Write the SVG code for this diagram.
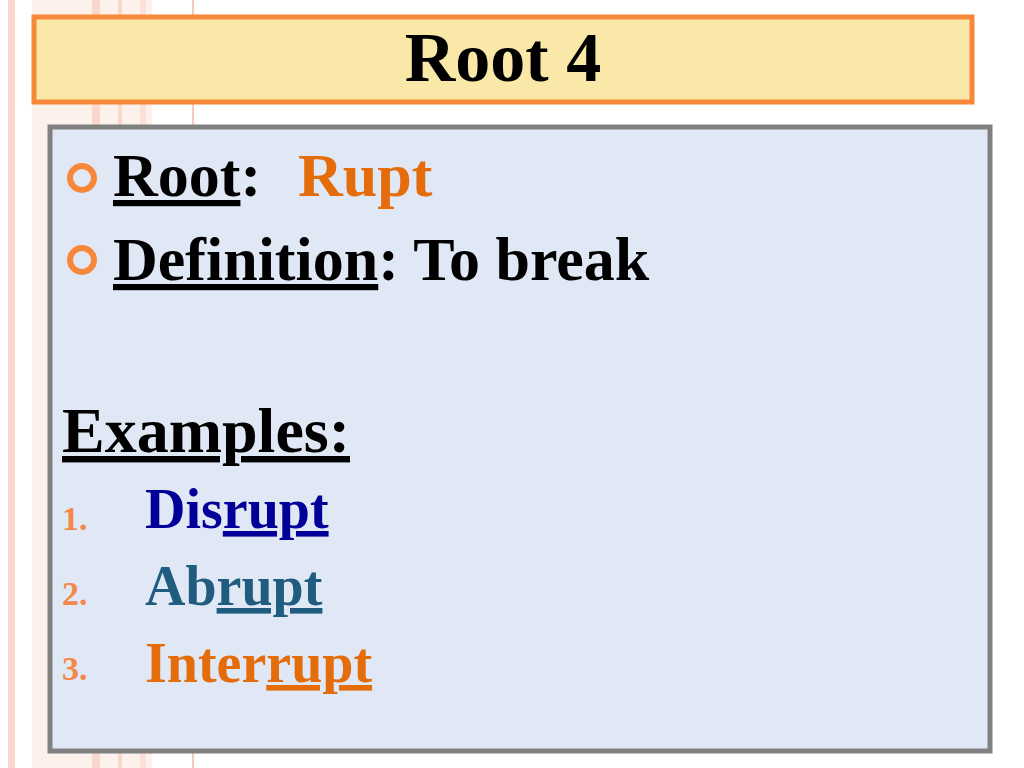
<svg xmlns="http://www.w3.org/2000/svg" width="1024" height="768" viewBox="0 0 1024 768">
<style>
text{font-family:"Liberation Serif","Times New Roman",serif;font-weight:bold}
.u{text-decoration:underline}
.o{fill:#E46C0A}
.n{fill:#F4884A;font-size:34px}
</style>
<rect width="1024" height="768" fill="#fff"/>
<g id="background" opacity="0.55">
<rect x="8" y="0" width="7" height="768" fill="#F6B8A6"/>
<rect x="32" y="0" width="120" height="768" fill="#FCE6DE"/>
<rect x="92" y="0" width="8" height="768" fill="#F6B8A6"/>
<rect x="118" y="0" width="4" height="768" fill="#F6B8A6"/>
<rect x="140" y="0" width="6" height="768" fill="#F8C8B8"/>
<rect x="192" y="0" width="2" height="768" fill="#F0A088"/>
</g>
<g id="title">
<rect x="34" y="17" width="938" height="85" fill="#FAE8A8" stroke="#F7883A" stroke-width="5"/>
<text x="503" y="81" font-size="70" text-anchor="middle" fill="#000">Root 4</text>
</g>
<g id="content">
<rect x="50" y="127" width="940" height="624" fill="#E0E8F5" stroke="#808080" stroke-width="5"/>
<circle cx="82" cy="178" r="12" fill="none" stroke="#F7883A" stroke-width="6"/>
<circle cx="82" cy="260" r="12" fill="none" stroke="#F7883A" stroke-width="6"/>
<text x="113" y="196" font-size="62"><tspan class="u">Root</tspan>:<tspan x="298" class="o">Rupt</tspan></text>
<text x="113" y="280" font-size="62"><tspan class="u">Definition</tspan>: To break</text>
<text x="62" y="452" font-size="64" class="u">Examples:</text>
<text x="62" y="530" class="n">1.</text>
<text x="62" y="605" class="n">2.</text>
<text x="62" y="680" class="n">3.</text>
<text x="145" y="528" font-size="56" fill="#000099">Dis<tspan class="u">rupt</tspan></text>
<text x="145" y="605" font-size="56" fill="#1F5C80">Ab<tspan class="u">rupt</tspan></text>
<text x="145" y="682" font-size="56" class="o">Inter<tspan class="u">rupt</tspan></text>
</g>
</svg>
